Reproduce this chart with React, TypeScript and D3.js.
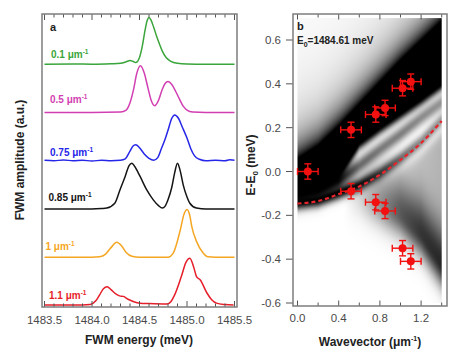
import React, { useMemo } from "react";
import * as d3 from "d3";

const FONT = "'Liberation Sans', Arial, Helvetica, sans-serif";
const FRAME = "#7d7d7d";
const TICKTXT = "#4a4a4a";

// ---------------- Panel a data ----------------
const energyTicks = [1483.5, 1484.0, 1484.5, 1485.0, 1485.5];
const energyTickLabels = ["1483.5", "1484.0", "1484.5", "1485.0", "1485.5"];
const wavevectorLabels = ["0.1", "0.5", "0.75", "0.85", "1", "1.1"];
const spectrumColors = ["#3aa53a", "#d23fb2", "#2626e8", "#141414", "#f5a623", "#e61e2a"];
const spectrumOffsets = [5, 4, 3, 2, 1, 0];
const labelPos: [number, number][] = [[51, 58], [50, 103], [50, 155.5], [48.5, 200.5], [45.5, 250], [49, 299]];

const spectrum01: [number, number][] = [
  [1483.5, 0], [1483.8, 0.005], [1484.0, 0], [1484.2, 0.01], [1484.3, 0.02], [1484.36, 0.05],
  [1484.4, 0.075], [1484.43, 0.06], [1484.46, 0.035], [1484.5, 0.14], [1484.53, 0.38],
  [1484.56, 0.72], [1484.58, 0.9], [1484.6, 0.97], [1484.62, 0.92], [1484.65, 0.76],
  [1484.68, 0.58], [1484.71, 0.42], [1484.74, 0.27], [1484.78, 0.14], [1484.83, 0.06],
  [1484.9, 0.02], [1485.0, 0.005], [1485.2, 0], [1485.5, 0],
];
const spectrum05: [number, number][] = [
  [1483.5, 0], [1484.0, 0], [1484.3, 0.01], [1484.36, 0.05], [1484.4, 0.2], [1484.44, 0.5],
  [1484.47, 0.8], [1484.51, 0.97], [1484.55, 0.82], [1484.59, 0.5], [1484.62, 0.27],
  [1484.66, 0.14], [1484.7, 0.25], [1484.74, 0.48], [1484.77, 0.6], [1484.8, 0.64],
  [1484.84, 0.58], [1484.88, 0.44], [1484.92, 0.28], [1484.96, 0.13], [1485.0, 0.05],
  [1485.06, 0.01], [1485.2, 0], [1485.5, 0],
];
const spectrum075: [number, number][] = [
  [1483.5, 0.01], [1483.6, 0], [1483.7, 0.015], [1483.8, 0], [1483.9, 0.01], [1484.0, -0.005],
  [1484.1, 0.01], [1484.2, 0], [1484.3, 0.01], [1484.35, 0.04], [1484.4, 0.2], [1484.43, 0.3],
  [1484.46, 0.33], [1484.5, 0.27], [1484.55, 0.14], [1484.6, 0.05], [1484.65, 0.01],
  [1484.69, 0.06], [1484.73, 0.25], [1484.77, 0.45], [1484.8, 0.63], [1484.84, 0.88],
  [1484.87, 0.95], [1484.91, 0.88], [1484.95, 0.7], [1485.0, 0.47], [1485.04, 0.25],
  [1485.08, 0.1], [1485.13, 0.03], [1485.2, 0], [1485.3, 0.01], [1485.4, 0], [1485.45, 0.02], [1485.5, 0.01],
];
const spectrum085: [number, number][] = [
  [1483.5, 0], [1484.0, 0], [1484.1, 0.01], [1484.155, 0.02], [1484.24, 0.12], [1484.295, 0.4],
  [1484.35, 0.68], [1484.39, 0.9], [1484.42, 0.95], [1484.45, 0.88], [1484.505, 0.68],
  [1484.575, 0.4], [1484.645, 0.19], [1484.7, 0.07], [1484.74, 0.02], [1484.77, 0.06],
  [1484.8, 0.19], [1484.84, 0.45], [1484.87, 0.75], [1484.9, 0.95], [1484.93, 0.78],
  [1484.96, 0.5], [1485.0, 0.25], [1485.03, 0.12], [1485.1, 0.02], [1485.2, 0], [1485.5, 0],
];
const spectrum1: [number, number][] = [
  [1483.5, 0], [1484.0, 0], [1484.08, 0.01], [1484.14, 0.06], [1484.2, 0.2], [1484.26, 0.31],
  [1484.31, 0.24], [1484.36, 0.1], [1484.42, 0.02], [1484.5, 0], [1484.8, 0], [1484.856, 0.09],
  [1484.93, 0.57], [1484.97, 0.9], [1485.0, 0.99], [1485.03, 0.86], [1485.05, 0.64],
  [1485.1, 0.33], [1485.17, 0.09], [1485.22, 0.01], [1485.3, 0], [1485.5, 0],
];
const spectrum11: [number, number][] = [
  [1483.5, 0.01], [1483.9, 0.01], [1483.98, 0.02], [1484.04, 0.1], [1484.08, 0.22], [1484.12, 0.35],
  [1484.16, 0.39], [1484.2, 0.33], [1484.25, 0.24], [1484.29, 0.2], [1484.33, 0.19], [1484.38, 0.13],
  [1484.44, 0.08], [1484.505, 0.05], [1484.6, 0.04], [1484.79, 0.03], [1484.83, 0.08],
  [1484.87, 0.22], [1484.94, 0.6], [1484.99, 0.9], [1485.03, 0.98], [1485.07, 0.8],
  [1485.1, 0.6], [1485.14, 0.53], [1485.21, 0.26], [1485.26, 0.12], [1485.31, 0.05],
  [1485.4, 0.02], [1485.49, 0.01],
];
const spectra = [spectrum01, spectrum05, spectrum075, spectrum085, spectrum1, spectrum11];

// ---------------- Panel b data ----------------
const kMajorTicks = [0, 0.4, 0.8, 1.2];
const kTickLabels = ["0.0", "0.4", "0.8", "1.2"];
const kMinorTicks = [0.2, 0.6, 1.0, 1.4];
const eTicks = [0.6, 0.4, 0.2, 0, -0.2, -0.4, -0.6];
const eTickLabels = ["0.6", "0.4", "0.2", "0.0", "-0.2", "-0.4", "-0.6"];

const pointK = [0.1, 0.52, 0.76, 0.85, 1.02, 1.1, 0.52, 0.76, 0.85, 1.02, 1.1];
const pointE = [0.0, 0.19, 0.26, 0.29, 0.38, 0.41, -0.09, -0.14, -0.18, -0.35, -0.41];
const pointKErr = [0.1, 0.1, 0.1, 0.1, 0.1, 0.1, 0.1, 0.1, 0.1, 0.1, 0.1];
const pointEErr = [0.035, 0.035, 0.035, 0.035, 0.035, 0.035, 0.035, 0.035, 0.035, 0.035, 0.035];

const dashK = [0, 0.2, 0.4, 0.6, 0.8, 1.0, 1.2, 1.4];
const dashE = [-0.146, -0.135, -0.103, -0.068, -0.015, 0.053, 0.13, 0.23];

// heat-map ridges (k -> energy)
const ridgeK = [0, 0.2, 0.4, 0.6, 0.8, 1.0, 1.2, 1.4];
const upperTopE = [0.06, 0.12, 0.21, 0.31, 0.41, 0.51, 0.6, 0.69];
const upperLowE = [-0.1, -0.08, -0.02, 0.13, 0.2, 0.265, 0.33, 0.4];
const grayBandE = [-0.1, -0.08, -0.04, 0.027, 0.1, 0.17, 0.245, 0.315];
const grayBandAmp = [1, 1, 0.95, 0.55, 0.5, 0.5, 0.45, 0.42];
const grayBandWidth = [0.04, 0.04, 0.035, 0.025, 0.025, 0.025, 0.025, 0.025];
const darkLineAmp = [1, 1, 1, 0.95, 0.75, 0.55, 0.45, 0.4];
const lowerK = [0.45, 0.6, 0.8, 1.0, 1.2, 1.4];
const lowerE = [-0.1, -0.11, -0.15, -0.2, -0.29, -0.43];
const lowerAmp = [0, 0.15, 0.42, 0.62, 0.76, 0.82];
const backK = [0.8, 1.0, 1.2, 1.4];
const backAmp = [0, 0.15, 0.25, 0.3];

// ---------------- geometry ----------------
const A = { left: 42, right: 237, top: 14, bottom: 307 };
const B = { left: 293, right: 447, top: 14, bottom: 306 };

const xA = d3.scaleLinear().domain([1483.5, 1485.5]).range([44.5, 234.5]);
const yA = d3.scaleLinear().domain([-0.03, 6.04]).range([307, 14]);
const xB = d3.scaleLinear().domain([0, 1.4]).range([297.5, 297.5 + 1.4 * 103]);
const yB = d3.scaleLinear().domain([-0.6, 0.6]).range([303, 40]);

function interp(ks: number[], vs: number[]) {
  return d3.scaleLinear().domain(ks).range(vs).clamp(true);
}

function makeIntensity() {
  const upTop = interp(ridgeK, upperTopE);
  const upLow = interp(ridgeK, upperLowE);
  const gE = interp(ridgeK, grayBandE);
  const gA = interp(ridgeK, grayBandAmp);
  const gW = interp(ridgeK, grayBandWidth);
  const dA = interp(ridgeK, darkLineAmp);
  const dE = interp(dashK, dashE);
  const lE = interp(lowerK, lowerE);
  const lA = interp(lowerK, lowerAmp);
  const bA = interp(backK, backAmp);
  return (k: number, v: number) => {
    const top = upTop(k), low = upLow(k);
    let iu: number;
    if (v >= low && v <= top) iu = 1;
    else if (v > top) {
      const d = v - top;
      iu = 0.8 * Math.exp(-d / 0.08) + 0.2 * Math.exp(-d / 0.28);
    } else { const d = (low - v) / 0.022; iu = Math.exp(-0.5 * d * d); }
    const dg = (v - gE(k)) / gW(k);
    const ig = gA(k) * Math.exp(-0.5 * dg * dg);
    const dd = (v - dE(k) - 0.006) / 0.022;
    const id = dA(k) * Math.exp(-0.5 * dd * dd);
    const dl = v - lE(k);
    const sl = dl < 0 ? 0.07 : 0.12;
    const il = lA(k) * Math.exp(-0.5 * (dl / sl) * (dl / sl));
    const above = 1 / (1 + Math.exp(Math.min(60, -(v - lE(k)) / 0.03)));
    const below = 1 / (1 + Math.exp(Math.min(60, (v - (dE(k) - 0.05)) / 0.015)));
    const ib = bA(k) * above * below;
    const I = 1 - (1 - iu) * (1 - ig) * (1 - id) * (1 - il) * (1 - ib);
    return Math.max(0, Math.min(1, I));
  };
}

function Heatmap() {
  const x0 = xB(0), x1 = xB(1.4);
  const y0 = yB(0.7), y1 = yB(-0.6);
  const href = useMemo(() => {
    const w = Math.round(x1 - x0);
    const h = Math.round(y1 - y0);
    const canvas = document.createElement("canvas");
    canvas.width = w;
    canvas.height = h;
    const ctx = canvas.getContext("2d");
    if (!ctx) return "";
    const img = ctx.createImageData(w, h);
    const f = makeIntensity();
    const kOf = d3.scaleLinear().domain([0, w]).range([0, 1.4]);
    const vOf = d3.scaleLinear().domain([0, h]).range([0.7, -0.6]);
    for (let j = 0; j < h; j++) {
      const v = vOf(j + 0.5);
      for (let i = 0; i < w; i++) {
        const k = kOf(i + 0.5);
        const g = Math.round(255 * (1 - f(k, v)));
        const p = (j * w + i) * 4;
        img.data[p] = g;
        img.data[p + 1] = g;
        img.data[p + 2] = g;
        img.data[p + 3] = 255;
      }
    }
    ctx.putImageData(img, 0, 0);
    return canvas.toDataURL("image/png");
  }, []);
  return <image href={href} x={x0} y={y0} width={x1 - x0} height={y1 - y0} preserveAspectRatio="none" />;
}

function PanelA() {
  const line = d3.line<[number, number]>().curve(d3.curveMonotoneX);
  const minor = d3.range(0, 21).map((i) => 1483.5 + i * 0.1);
  return (
    <g>
      {spectra.map((s, i) => (
        <path
          key={i}
          d={line(s.map(([e, a]) => [xA(e), yA(a + spectrumOffsets[i])]))!}
          fill="none"
          stroke={spectrumColors[i]}
          strokeWidth={1.5}
        />
      ))}
      {wavevectorLabels.map((l, i) => (
        <text key={i} x={labelPos[i][0]} y={labelPos[i][1]} fill={spectrumColors[i]} fontFamily={FONT} fontWeight="bold" fontSize={10}>
          {l} μm
          <tspan dy={-4} fontSize={6.5}>-1</tspan>
        </text>
      ))}
      {minor.map((e, i) => {
        const major = i % 5 === 0;
        const len = major ? 6 : 3.5;
        return (
          <g key={i} stroke="#555" strokeWidth={1}>
            <line x1={xA(e)} x2={xA(e)} y1={A.bottom} y2={A.bottom - len} />
            <line x1={xA(e)} x2={xA(e)} y1={A.top} y2={A.top + len} />
          </g>
        );
      })}
      <rect x={A.left} y={A.top} width={A.right - A.left} height={A.bottom - A.top} fill="none" stroke={FRAME} strokeWidth={1.5} />
      {energyTicks.map((e, i) => (
        <text key={i} x={xA(e)} y={324} textAnchor="middle" fontFamily={FONT} fontSize={11.5} fill={TICKTXT}>
          {energyTickLabels[i]}
        </text>
      ))}
      <text x={139} y={344} textAnchor="middle" fontFamily={FONT} fontWeight="bold" fontSize={12} fill="#222">
        FWM energy (meV)
      </text>
      <text transform="translate(24,160) rotate(-90)" textAnchor="middle" fontFamily={FONT} fontWeight="bold" fontSize={12} fill="#222">
        FWM amplitude (a.u.)
      </text>
      <text x={50} y={31} fontFamily={FONT} fontWeight="bold" fontSize={11} fill="#222">a</text>
    </g>
  );
}

function PanelB() {
  const dashLine = d3.line<number>()
    .x((_, i) => xB(dashK[i]))
    .y((_, i) => yB(dashE[i]))
    .curve(d3.curveMonotoneX);
  const red = "#f21010";
  return (
    <g>
      <Heatmap />
      <path d={dashLine(dashE)!} fill="none" stroke="#e8242c" strokeWidth={2.2} strokeDasharray="4,3" />
      {pointK.map((k, i) => {
        const cx = xB(k), cy = yB(pointE[i]);
        const xl = xB(k - pointKErr[i]), xr = xB(k + pointKErr[i]);
        const yt = yB(pointE[i] + pointEErr[i]), yb = yB(pointE[i] - pointEErr[i]);
        return (
          <g key={i} stroke={red} strokeWidth={1.4} fill={red}>
            <line x1={xl} x2={xr} y1={cy} y2={cy} />
            <line x1={xl} x2={xl} y1={cy - 3.5} y2={cy + 3.5} />
            <line x1={xr} x2={xr} y1={cy - 3.5} y2={cy + 3.5} />
            <line x1={cx} x2={cx} y1={yt} y2={yb} />
            <line x1={cx - 3.5} x2={cx + 3.5} y1={yt} y2={yt} />
            <line x1={cx - 3.5} x2={cx + 3.5} y1={yb} y2={yb} />
            <circle cx={cx} cy={cy} r={4} stroke="none" />
          </g>
        );
      })}
      {kMajorTicks.concat(kMinorTicks).map((k, i) => {
        const len = i < kMajorTicks.length ? 5.5 : 3.5;
        return (
          <g key={i} stroke="#555" strokeWidth={1}>
            <line x1={xB(k)} x2={xB(k)} y1={B.bottom} y2={B.bottom - len} />
            <line x1={xB(k)} x2={xB(k)} y1={B.top} y2={B.top + len} />
          </g>
        );
      })}
      {eTicks.map((e, i) => (
        <g key={i}>
          <line x1={B.left - 7} x2={B.left} y1={yB(e)} y2={yB(e)} stroke="#555" strokeWidth={1} />
          <text x={281} y={yB(e) + 4} textAnchor="end" fontFamily={FONT} fontSize={11.5} fill={TICKTXT}>
            {eTickLabels[i]}
          </text>
        </g>
      ))}
      <rect x={B.left} y={B.top} width={B.right - B.left} height={B.bottom - B.top} fill="none" stroke={FRAME} strokeWidth={1.5} />
      {kMajorTicks.map((k, i) => (
        <text key={i} x={xB(k)} y={322} textAnchor="middle" fontFamily={FONT} fontSize={11.5} fill={TICKTXT}>
          {kTickLabels[i]}
        </text>
      ))}
      <text x={370} y={346} textAnchor="middle" fontFamily={FONT} fontWeight="bold" fontSize={12} fill="#222">
        Wavevector (μm
        <tspan dy={-5} fontSize={7}>-1</tspan>
        <tspan dy={5}>)</tspan>
      </text>
      <text transform="translate(255,165) rotate(-90)" textAnchor="middle" fontFamily={FONT} fontWeight="bold" fontSize={12} fill="#222">
        E-E
        <tspan dy={3} fontSize={8}>0</tspan>
        <tspan dy={-3}> (meV)</tspan>
      </text>
      <text x={297} y={30} fontFamily={FONT} fontWeight="bold" fontSize={11} fill="#222">b</text>
      <text x={297} y={44} fontFamily={FONT} fontWeight="bold" fontSize={10} fill="#222">
        E
        <tspan dy={2.5} fontSize={7}>0</tspan>
        <tspan dy={-2.5}>=1484.61 meV</tspan>
      </text>
    </g>
  );
}

export default function App() {
  return (
    <svg width={474} height={353} viewBox="0 0 474 353" style={{ position: "absolute", left: 0, top: 0, background: "#fff" }}>
      <rect x={0} y={0} width={474} height={353} fill="#fff" />
      <PanelA />
      <PanelB />
    </svg>
  );
}
